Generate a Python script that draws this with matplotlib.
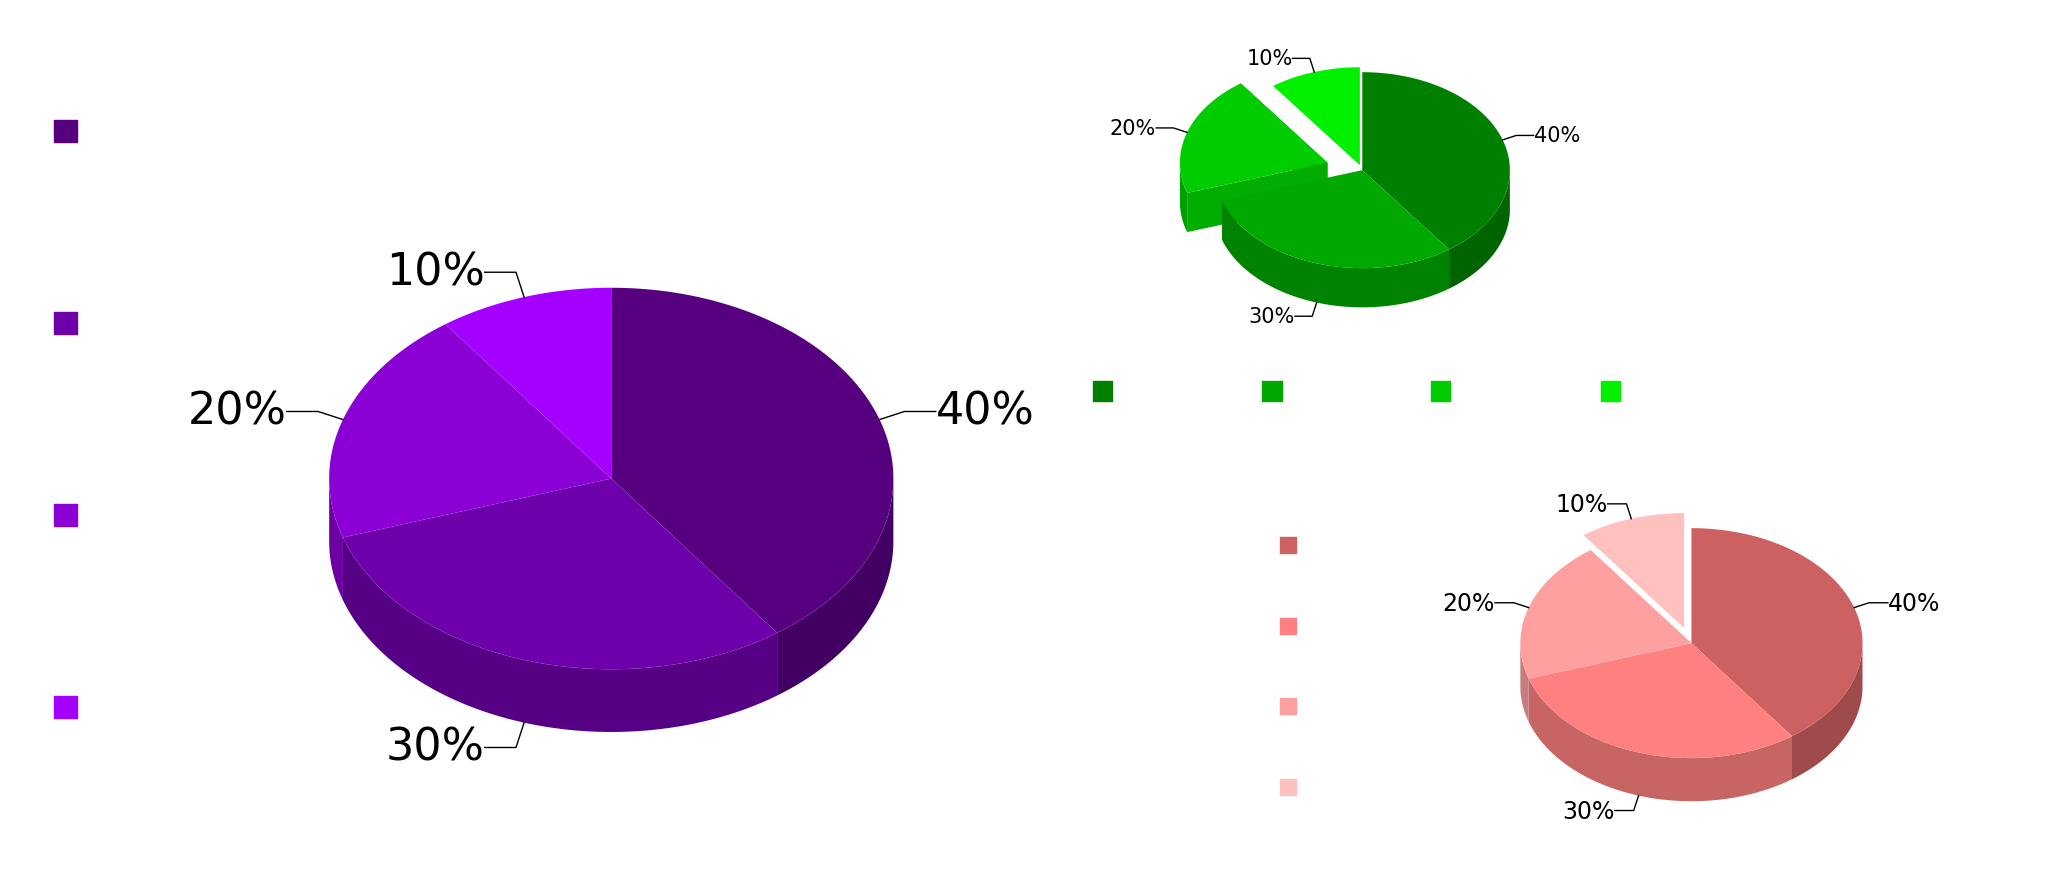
import numpy as np
import matplotlib
matplotlib.use('Agg')
import matplotlib.pyplot as plt
from matplotlib.patches import Polygon
from matplotlib.colors import to_rgb

values = [40, 30, 20, 10]
labels = ['40%', '30%', '20%', '10%']
purple = ['#560080', '#6e00ab', '#8b00d4', '#a300ff']
green = ['#008000', '#00a800', '#00cc00', '#00f000']
pink = ['#cd6060', '#ff8080', '#ffa0a0', '#ffc0c0']

W, H = 1568, 672
fig = plt.figure(figsize=(20.48, 8.78), dpi=100)
ax = fig.add_axes([0, 0, 1, 1])
ax.set_xlim(0, W)
ax.set_ylim(H, 0)
ax.axis('off')


def darker(c, f=0.78):
    return tuple(v * f for v in to_rgb(c))


def pie3d(cx, cy, rx, ry, depth, colors, explode, fs, lab_off):
    total = sum(values)
    start = 90.0
    slices = []
    for v, col, ex, lab in zip(values, colors, explode, labels):
        a0 = start - 360 * v / total
        a1 = start
        start = a0
        mid = np.radians((a0 + a1) / 2)
        ox, oy = ex * np.cos(mid), -ex * ry / rx * np.sin(mid)
        slices.append((a0, a1, col, ox, oy, mid, lab))
    # side walls (front half only)
    for a0, a1, col, ox, oy, mid, lab in slices:
        t = np.radians(np.linspace(a0, a1, 120))
        front = np.sin(t) < 0
        if not front.any():
            continue
        t = t[front]
        x = cx + ox + rx * np.cos(t)
        y = cy + oy - ry * np.sin(t)
        pts = np.vstack([np.column_stack([x, y]), np.column_stack([x[::-1], y[::-1] + depth])])
        ax.add_patch(Polygon(pts, closed=True, fc=darker(col), ec='none', zorder=2))
        # radial faces for exploded slices
        if ox or oy:
            for a in (a0, a1):
                ar = np.radians(a)
                ex_ = cx + ox + rx * np.cos(ar)
                ey_ = cy + oy - ry * np.sin(ar)
                face = [(cx + ox, cy + oy), (ex_, ey_), (ex_, ey_ + depth), (cx + ox, cy + oy + depth)]
                ax.add_patch(Polygon(face, closed=True, fc=darker(col, 0.85), ec='none', zorder=1.5))
    # tops
    for a0, a1, col, ox, oy, mid, lab in slices:
        t = np.radians(np.linspace(a0, a1, 120))
        x = cx + ox + rx * np.cos(t)
        y = cy + oy - ry * np.sin(t)
        pts = np.vstack([[cx + ox, cy + oy], np.column_stack([x, y])])
        ax.add_patch(Polygon(pts, closed=True, fc=col, ec='none', zorder=3))
        # label with leader
        px = cx + ox + rx * np.cos(mid)
        py = cy + oy - ry * np.sin(mid) + (depth if np.sin(mid) < 0 else 0)
        dx, dy = np.cos(mid), -np.sin(mid)
        qx, qy = px + dx * lab_off * 0.5, py + dy * lab_off * 0.5
        hx = qx + np.sign(dx) * lab_off * 0.6 if abs(dx) > 0.3 else qx - lab_off * 0.4
        ax.plot([px, qx, hx], [py, qy, qy], color='black', lw=1, zorder=4)
        ha = 'left' if hx > qx else 'right'
        if abs(dx) <= 0.3:
            ha = 'right'
        va = 'bottom' if dy < 0 else 'top'
        ax.text(hx, qy, lab, fontsize=fs, ha=ha, va='center' if abs(dx) > 0.3 else va,
                family='DejaVu Sans', zorder=5)


pie3d(468, 367, 216, 146, 48, purple, [0, 0, 0, 0], 32, 40)
pie3d(1043, 131, 113, 75, 30, green, [0, 0, 28, 6], 15, 22)
pie3d(1295, 493, 131, 88, 33, pink, [0, 0, 0, 18], 17, 24)

# legend markers (no text)
ax.scatter([50] * 4, [101, 248, 395, 542], s=260, marker='s', c=purple, zorder=5)
ax.scatter([844, 974, 1103, 1233], [300] * 4, s=200, marker='s', c=green, zorder=5)
ax.scatter([986] * 4, [418, 480, 541, 603], s=130, marker='s', c=pink, zorder=5)

fig.savefig('out.png', dpi=100)
